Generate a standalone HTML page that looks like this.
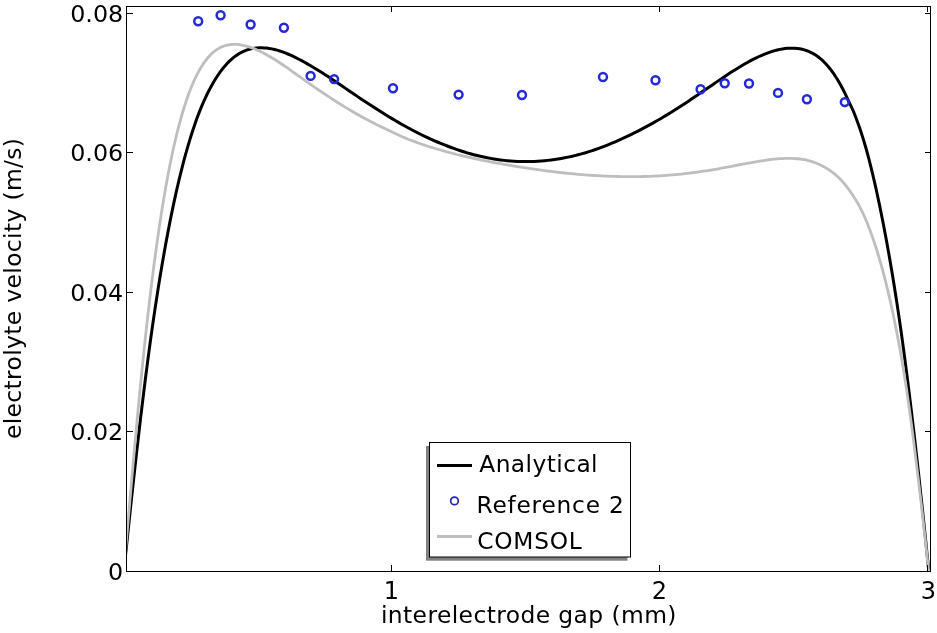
<!DOCTYPE html>
<html><head><meta charset="utf-8"><title>plot</title>
<style>
html,body{margin:0;padding:0;background:#fff;}
svg{display:block;}
text{font-family:"DejaVu Sans","Liberation Sans",sans-serif;fill:#000;}
</style></head><body>
<svg width="937" height="633" viewBox="0 0 937 633">
<rect width="937" height="633" fill="#fff"/>
<defs><clipPath id="ax"><rect x="126.5" y="6.5" width="804" height="565"/></clipPath></defs>
<g clip-path="url(#ax)" fill="none" stroke-linejoin="round">
<path d="M123.70,573.07 L123.71,572.93 L123.75,572.53 L123.82,571.86 L123.92,570.91 L124.05,569.70 L124.20,568.22 L124.38,566.47 L124.59,564.45 L124.83,562.16 L125.09,559.61 L125.39,556.80 L125.71,553.71 L126.05,550.37 L126.43,546.76 L126.83,542.90 L127.26,538.77 L127.72,534.40 L128.21,529.77 L128.72,524.89 L129.27,519.76 L129.84,514.40 L130.43,508.80 L131.06,502.96 L131.71,496.90 L132.40,490.62 L133.10,484.12 L133.84,477.41 L134.60,470.50 L135.39,463.40 L136.21,456.11 L137.06,448.64 L137.93,441.01 L138.83,433.21 L139.76,425.27 L140.71,417.19 L141.69,408.97 L142.70,400.64 L143.74,392.20 L144.80,383.67 L145.89,375.05 L147.01,366.35 L148.16,357.60 L149.34,348.80 L150.54,339.96 L151.78,331.10 L153.05,322.23 L154.35,313.36 L155.68,304.50 L157.04,295.66 L158.42,286.86 L159.84,278.11 L161.28,269.42 L162.75,260.80 L164.25,252.26 L165.77,243.82 L167.32,235.48 L168.89,227.25 L170.49,219.14 L172.11,211.16 L173.75,203.33 L175.42,195.64 L177.11,188.11 L178.83,180.74 L180.57,173.54 L182.34,166.52 L184.13,159.68 L185.94,153.04 L187.78,146.58 L189.64,140.33 L191.53,134.27 L193.44,128.43 L195.37,122.79 L197.32,117.36 L199.30,112.14 L201.31,107.15 L203.34,102.37 L205.40,97.82 L207.47,93.48 L209.57,89.35 L211.68,85.45 L213.80,81.75 L215.93,78.27 L218.07,74.99 L220.22,71.92 L222.38,69.05 L224.55,66.38 L226.74,63.91 L228.94,61.64 L231.16,59.55 L233.39,57.65 L235.64,55.93 L237.90,54.39 L240.18,53.03 L242.48,51.83 L244.81,50.79 L247.15,49.92 L249.51,49.20 L251.90,48.63 L254.31,48.21 L256.75,47.93 L259.21,47.78 L261.69,47.77 L264.20,47.88 L266.74,48.10 L269.31,48.43 L271.90,48.88 L274.52,49.46 L277.15,50.17 L279.81,50.98 L282.48,51.89 L285.17,52.90 L287.89,54.00 L290.62,55.19 L293.36,56.46 L296.13,57.80 L298.91,59.22 L301.71,60.70 L304.53,62.25 L307.37,63.85 L310.23,65.50 L313.10,67.20 L315.99,68.95 L318.89,70.74 L321.81,72.57 L324.73,74.44 L327.67,76.36 L330.61,78.31 L333.56,80.29 L336.53,82.29 L339.51,84.31 L342.51,86.34 L345.52,88.38 L348.53,90.44 L351.57,92.50 L354.61,94.56 L357.67,96.62 L360.74,98.68 L363.82,100.74 L366.91,102.79 L370.01,104.82 L373.12,106.85 L376.25,108.86 L379.38,110.86 L382.52,112.84 L385.68,114.80 L388.84,116.73 L392.02,118.65 L395.20,120.53 L398.39,122.39 L401.60,124.22 L404.81,126.02 L408.02,127.78 L411.25,129.52 L414.49,131.21 L417.73,132.88 L420.98,134.50 L424.24,136.08 L427.50,137.63 L430.77,139.13 L434.05,140.59 L437.34,142.00 L440.63,143.37 L443.92,144.71 L447.22,146.00 L450.52,147.25 L453.83,148.46 L457.14,149.62 L460.45,150.73 L463.77,151.80 L467.10,152.82 L470.43,153.78 L473.77,154.69 L477.11,155.54 L480.46,156.33 L483.81,157.08 L487.16,157.76 L490.52,158.40 L493.88,158.97 L497.24,159.50 L500.61,159.96 L503.98,160.37 L507.35,160.72 L510.72,161.02 L514.10,161.25 L517.48,161.43 L520.85,161.54 L524.23,161.60 L527.61,161.59 L530.99,161.53 L534.37,161.41 L537.74,161.24 L541.12,161.01 L544.50,160.72 L547.87,160.38 L551.24,159.97 L554.61,159.52 L557.98,159.01 L561.34,158.44 L564.71,157.81 L568.07,157.14 L571.42,156.41 L574.78,155.62 L578.13,154.78 L581.47,153.89 L584.81,152.94 L588.15,151.93 L591.47,150.87 L594.79,149.75 L598.11,148.59 L601.42,147.37 L604.72,146.11 L608.02,144.80 L611.31,143.45 L614.60,142.05 L617.88,140.62 L621.16,139.15 L624.43,137.65 L627.71,136.11 L630.97,134.54 L634.24,132.94 L637.50,131.30 L640.75,129.63 L644.00,127.93 L647.24,126.19 L650.48,124.42 L653.70,122.63 L656.92,120.80 L660.13,118.95 L663.32,117.06 L666.51,115.15 L669.68,113.22 L672.84,111.25 L675.98,109.27 L679.11,107.26 L682.23,105.23 L685.33,103.19 L688.42,101.13 L691.49,99.07 L694.55,97.00 L697.60,94.93 L700.64,92.86 L703.66,90.79 L706.67,88.73 L709.67,86.68 L712.65,84.64 L715.62,82.62 L718.58,80.62 L721.53,78.63 L724.45,76.68 L727.37,74.75 L730.27,72.86 L733.16,71.00 L736.03,69.18 L738.89,67.41 L741.74,65.69 L744.57,64.03 L747.40,62.44 L750.21,60.91 L753.00,59.45 L755.78,58.06 L758.55,56.75 L761.29,55.52 L764.02,54.37 L766.72,53.31 L769.40,52.33 L772.05,51.45 L774.68,50.66 L777.29,49.98 L779.87,49.39 L782.43,48.92 L784.96,48.55 L787.47,48.30 L789.95,48.16 L792.41,48.14 L794.85,48.24 L797.27,48.45 L799.69,48.80 L802.09,49.29 L804.48,49.92 L806.87,50.71 L809.25,51.66 L811.62,52.78 L813.98,54.08 L816.33,55.57 L818.66,57.25 L820.97,59.13 L823.26,61.22 L825.52,63.51 L827.76,66.00 L829.99,68.70 L832.19,71.60 L834.36,74.71 L836.52,78.03 L838.66,81.56 L840.78,85.30 L842.89,89.25 L844.99,93.41 L847.08,97.78 L849.21,102.34 L851.49,107.05 L853.70,112.00 L855.76,117.22 L857.78,122.66 L859.77,128.31 L861.73,134.17 L863.63,140.24 L865.49,146.52 L867.30,153.00 L869.07,159.67 L870.82,166.53 L872.53,173.57 L874.22,180.79 L875.89,188.17 L877.54,195.70 L879.17,203.40 L880.78,211.23 L882.38,219.20 L883.95,227.30 L885.51,235.51 L887.04,243.84 L888.55,252.27 L890.04,260.78 L891.50,269.37 L892.94,278.03 L894.36,286.75 L895.74,295.51 L897.10,304.31 L898.43,313.13 L899.73,321.96 L901.00,330.79 L902.23,339.60 L903.43,348.39 L904.60,357.14 L905.74,365.84 L906.86,374.48 L907.94,383.05 L909.00,391.52 L910.03,399.90 L911.04,408.17 L912.01,416.33 L912.96,424.35 L913.88,432.23 L914.78,439.96 L915.64,447.52 L916.48,454.92 L917.29,462.14 L918.08,469.18 L918.83,476.02 L919.56,482.66 L920.26,489.08 L920.93,495.30 L921.58,501.29 L922.19,507.05 L922.78,512.59 L923.34,517.88 L923.87,522.94 L924.37,527.75 L924.84,532.31 L925.29,536.62 L925.71,540.67 L926.10,544.47 L926.46,548.00 L926.79,551.28 L927.10,554.29 L927.38,557.04 L927.64,559.52 L927.86,561.74 L928.06,563.69 L928.23,565.37 L928.38,566.79 L928.49,567.93 L928.58,568.81 L928.64,569.41 L928.68,569.75 L928.69,569.83" stroke="#000" stroke-width="3"/>
<g stroke="#2329d6" stroke-width="2.5" fill="none">
<circle cx="198.2" cy="21.3" r="3.95"/><circle cx="220.6" cy="15.2" r="3.95"/><circle cx="250.6" cy="24.5" r="3.95"/><circle cx="283.9" cy="27.7" r="3.95"/><circle cx="310.6" cy="75.9" r="3.95"/><circle cx="334.1" cy="79.1" r="3.95"/><circle cx="393" cy="88.2" r="3.95"/><circle cx="458.6" cy="94.6" r="3.95"/><circle cx="522" cy="95" r="3.95"/><circle cx="603" cy="77" r="3.95"/><circle cx="655.5" cy="80.3" r="3.95"/><circle cx="700.6" cy="89.3" r="3.95"/><circle cx="724.7" cy="83.3" r="3.95"/><circle cx="749" cy="83.5" r="3.95"/><circle cx="778" cy="92.9" r="3.95"/><circle cx="806.9" cy="99.3" r="3.95"/><circle cx="844.8" cy="102.1" r="3.95"/>
</g>
<path d="M123.70,571.52 L123.71,571.36 L123.75,570.89 L123.83,570.11 L123.92,569.01 L124.05,567.59 L124.21,565.85 L124.39,563.80 L124.60,561.42 L124.84,558.71 L125.11,555.68 L125.41,552.32 L125.73,548.63 L126.08,544.61 L126.46,540.25 L126.87,535.56 L127.31,530.53 L127.77,525.18 L128.27,519.49 L128.79,513.48 L129.34,507.14 L129.91,500.49 L130.52,493.53 L131.15,486.26 L131.81,478.70 L132.50,470.85 L133.22,462.73 L133.97,454.35 L134.75,445.72 L135.56,436.86 L136.40,427.78 L137.27,418.50 L138.16,409.04 L139.09,399.41 L140.04,389.63 L141.02,379.72 L142.03,369.71 L143.06,359.60 L144.12,349.43 L145.21,339.20 L146.33,328.95 L147.47,318.69 L148.64,308.44 L149.84,298.22 L151.07,288.06 L152.32,277.95 L153.60,267.94 L154.91,258.03 L156.25,248.24 L157.61,238.58 L158.99,229.08 L160.40,219.74 L161.83,210.58 L163.29,201.61 L164.78,192.85 L166.28,184.29 L167.82,175.97 L169.37,167.87 L170.95,160.01 L172.55,152.41 L174.18,145.05 L175.82,137.96 L177.50,131.13 L179.19,124.56 L180.91,118.27 L182.64,112.25 L184.41,106.50 L186.19,101.03 L187.99,95.83 L189.82,90.91 L191.67,86.25 L193.54,81.87 L195.43,77.76 L197.34,73.91 L199.28,70.33 L201.23,67.00 L203.21,63.93 L205.20,61.11 L207.21,58.53 L209.24,56.20 L211.29,54.09 L213.35,52.21 L215.42,50.55 L217.52,49.11 L219.63,47.88 L221.76,46.84 L223.90,46.00 L226.06,45.33 L228.23,44.84 L230.43,44.51 L232.65,44.34 L234.89,44.31 L237.16,44.41 L239.45,44.66 L241.78,45.03 L244.13,45.52 L246.52,46.13 L248.93,46.85 L251.38,47.69 L253.85,48.62 L256.35,49.66 L258.87,50.79 L261.41,52.01 L263.98,53.31 L266.56,54.70 L269.16,56.16 L271.77,57.70 L274.40,59.31 L277.04,60.99 L279.68,62.72 L282.34,64.51 L285.02,66.34 L287.70,68.21 L290.41,70.11 L293.13,72.04 L295.86,73.99 L298.62,75.95 L301.39,77.93 L304.19,79.90 L307.01,81.88 L309.85,83.87 L312.70,85.85 L315.56,87.83 L318.45,89.81 L321.34,91.78 L324.26,93.74 L327.18,95.69 L330.13,97.63 L333.08,99.55 L336.05,101.46 L339.04,103.35 L342.04,105.22 L345.05,107.07 L348.07,108.89 L351.11,110.70 L354.16,112.47 L357.22,114.23 L360.29,115.96 L363.37,117.66 L366.47,119.33 L369.57,120.98 L372.69,122.60 L375.82,124.20 L378.96,125.76 L382.10,127.30 L385.26,128.81 L388.43,130.29 L391.60,131.75 L394.76,133.23 L397.92,134.71 L401.09,136.17 L404.27,137.58 L407.48,138.93 L410.72,140.20 L413.97,141.42 L417.23,142.61 L420.50,143.76 L423.78,144.88 L427.07,145.96 L430.37,147.01 L433.67,148.03 L436.98,149.03 L440.30,150.00 L443.62,150.94 L446.95,151.86 L450.28,152.76 L453.61,153.63 L456.95,154.49 L460.29,155.33 L463.63,156.14 L466.98,156.93 L470.33,157.70 L473.69,158.44 L477.05,159.17 L480.41,159.87 L483.78,160.56 L487.15,161.22 L490.51,161.87 L493.88,162.51 L497.26,163.13 L500.63,163.74 L504.00,164.33 L507.37,164.91 L510.75,165.48 L514.12,166.04 L517.49,166.59 L520.87,167.14 L524.24,167.67 L527.61,168.19 L530.98,168.70 L534.35,169.20 L537.71,169.68 L541.08,170.15 L544.45,170.60 L547.81,171.03 L551.18,171.45 L554.54,171.86 L557.90,172.25 L561.26,172.63 L564.61,172.99 L567.97,173.33 L571.32,173.66 L574.66,173.98 L578.01,174.28 L581.35,174.56 L584.68,174.83 L588.01,175.07 L591.34,175.31 L594.66,175.52 L597.98,175.72 L601.29,175.90 L604.60,176.06 L607.90,176.21 L611.19,176.33 L614.48,176.44 L617.77,176.52 L621.04,176.59 L624.31,176.64 L627.58,176.67 L630.83,176.67 L634.08,176.66 L637.32,176.62 L640.56,176.57 L643.78,176.50 L647.00,176.40 L650.21,176.29 L653.41,176.16 L656.60,176.00 L659.78,175.83 L662.95,175.63 L666.12,175.41 L669.27,175.18 L672.42,174.92 L675.55,174.64 L678.67,174.34 L681.79,174.02 L684.89,173.68 L687.98,173.32 L691.06,172.94 L694.13,172.54 L697.19,172.13 L700.24,171.69 L703.27,171.24 L706.30,170.78 L709.31,170.30 L712.30,169.80 L715.29,169.29 L718.26,168.77 L721.22,168.24 L724.16,167.71 L727.09,167.16 L730.00,166.61 L732.90,166.05 L735.79,165.50 L738.66,164.95 L741.51,164.40 L744.35,163.86 L747.18,163.34 L749.99,162.82 L752.78,162.32 L755.55,161.84 L758.31,161.37 L761.05,160.93 L763.77,160.51 L766.47,160.12 L769.16,159.76 L771.82,159.43 L774.47,159.14 L777.09,158.89 L779.69,158.69 L782.27,158.53 L784.83,158.42 L787.38,158.36 L789.89,158.37 L792.39,158.43 L794.87,158.55 L797.33,158.73 L799.78,158.99 L802.20,159.32 L804.61,159.74 L807.00,160.24 L809.38,160.83 L811.75,161.52 L814.10,162.31 L816.44,163.21 L818.77,164.23 L821.09,165.35 L823.42,166.56 L825.77,167.86 L828.14,169.28 L830.50,170.84 L832.87,172.54 L835.20,174.42 L837.50,176.48 L839.78,178.71 L842.04,181.10 L844.27,183.65 L846.48,186.38 L848.68,189.26 L850.86,192.30 L853.03,195.51 L855.18,198.89 L857.29,202.44 L859.37,206.16 L861.40,210.07 L863.37,214.15 L865.27,218.42 L867.11,222.86 L868.93,227.46 L870.72,232.22 L872.49,237.13 L874.22,242.20 L875.93,247.42 L877.62,252.78 L879.27,258.29 L880.90,263.93 L882.51,269.71 L884.08,275.63 L885.63,281.66 L887.15,287.82 L888.65,294.09 L890.12,300.47 L891.56,306.95 L892.97,313.53 L894.36,320.19 L895.72,326.93 L897.05,333.74 L898.36,340.62 L899.64,347.55 L900.89,354.53 L902.10,361.55 L903.28,368.60 L904.42,375.67 L905.52,382.75 L906.60,389.83 L907.64,396.91 L908.65,403.96 L909.64,410.99 L910.59,417.98 L911.52,424.92 L912.42,431.80 L913.30,438.61 L914.16,445.35 L914.99,452.00 L915.80,458.55 L916.59,464.99 L917.36,471.32 L918.11,477.53 L918.84,483.60 L919.55,489.52 L920.24,495.30 L920.90,500.91 L921.53,506.36 L922.14,511.64 L922.72,516.73 L923.27,521.63 L923.80,526.34 L924.30,530.84 L924.78,535.13 L925.23,539.21 L925.65,543.06 L926.04,546.69 L926.41,550.09 L926.75,553.24 L927.06,556.16 L927.35,558.83 L927.61,561.25 L927.84,563.41 L928.04,565.33 L928.22,566.98 L928.37,568.37 L928.49,569.50 L928.58,570.37 L928.64,570.97 L928.68,571.30 L928.69,571.37" stroke="#bebebe" stroke-width="2.8"/>
</g>
<!-- axes -->
<g stroke="#000" stroke-width="1" fill="none" shape-rendering="crispEdges">
<rect x="126.5" y="6.5" width="804" height="565"/>
<path d="M391.5,571.5v-7M659.5,571.5v-7M927.5,571.5v-7M391.5,6.5v5M659.5,6.5v5M927.5,6.5v5"/>
<path d="M126.5,13.5h6M126.5,152.5h6M126.5,292.5h6M126.5,431.5h6M930.5,13.5h-6M930.5,152.5h-6M930.5,292.5h-6M930.5,431.5h-6"/>
</g>
<g font-size="23.8" text-anchor="end">
<text x="123.2" y="21.5">0.08</text>
<text x="123.2" y="160.5">0.06</text>
<text x="123.2" y="300.5">0.04</text>
<text x="123.2" y="439.5">0.02</text>
<text x="123.2" y="579.5">0</text>
</g>
<g font-size="24" text-anchor="middle">
<text x="391.5" y="599">1</text>
<text x="659.5" y="599">2</text>
<text x="928.5" y="599">3</text>
</g><g font-size="23.4"><text x="380.9" y="622.7" textLength="295.6">interelectrode gap (mm)</text>
<text transform="translate(20.7,439) rotate(-90)" textLength="301">electrolyte velocity (m/s)</text>
</g>
<!-- legend -->
<rect x="426" y="446" width="201.5" height="114.7" fill="#808080"/>
<rect x="429.5" y="442.5" width="201" height="114.5" fill="#fff" stroke="#000" stroke-width="1"/>
<path d="M437,465.5h35" stroke="#000" stroke-width="3"/>
<circle cx="454.5" cy="500.9" r="3.8" fill="none" stroke="#2525b4" stroke-width="1.7"/>
<path d="M437,536.5h35" stroke="#bebebe" stroke-width="3"/>
<g font-size="23.3">
<text x="479.3" y="472" textLength="118.3">Analytical</text>
<text x="476.5" y="512.8" textLength="147.3">Reference 2</text>
<text x="477.3" y="548.9" textLength="104.4">COMSOL</text>
</g>
</svg>
</body></html>
